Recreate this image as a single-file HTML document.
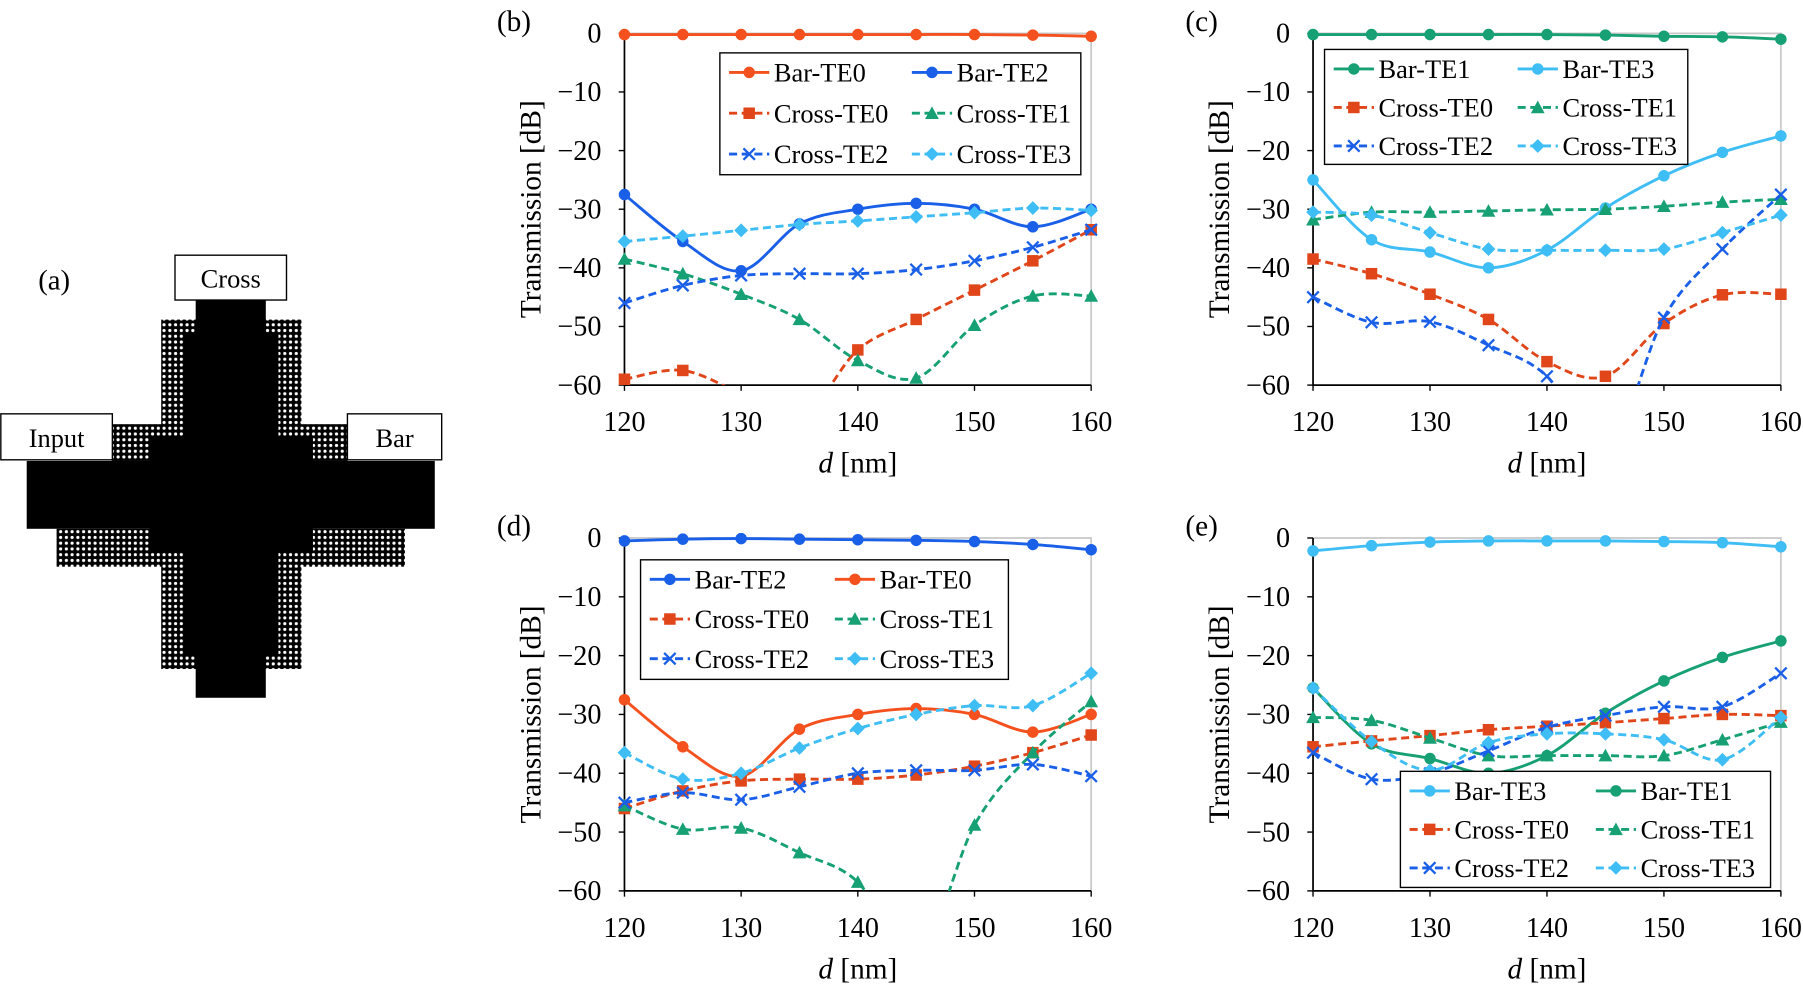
<!DOCTYPE html>
<html><head><meta charset="utf-8"><style>
html,body{margin:0;padding:0;background:#fff;}
svg{display:block;}
text{font-family:"Liberation Serif",serif;}
</style></head><body>
<svg id="s" width="1803" height="984" viewBox="0 0 1568 856" xmlns="http://www.w3.org/2000/svg">
<defs>
<pattern id="dots" width="5" height="5" patternUnits="userSpaceOnUse">
<rect width="5" height="5" fill="#000"/><circle cx="2.5" cy="2.5" r="1.4" fill="#fff"/>
</pattern>
</defs>
<g id="a">
<text x="33" y="252" font-size="25">(a)</text>
<rect x="140" y="278" width="122" height="304" fill="url(#dots)"/>
<rect x="97" y="369" width="205" height="32" fill="url(#dots)"/>
<rect x="49" y="460" width="303" height="33" fill="url(#dots)"/>
<rect x="160" y="290" width="82" height="280" fill="#000"/>
<rect x="130" y="380" width="142" height="100" fill="#000"/>
<rect x="170" y="261" width="61" height="346" fill="#000"/>
<rect x="23" y="401" width="355" height="59" fill="#000"/>
<rect x="152" y="222" width="97" height="39" fill="#fff" stroke="#000" stroke-width="1.2"/>
<text x="200.5" y="250" font-size="23" text-anchor="middle">Cross</text>
<rect x="0.5" y="360" width="97" height="40" fill="#fff" stroke="#000" stroke-width="1.2"/>
<text x="49" y="389" font-size="23" text-anchor="middle">Input</text>
<rect x="302" y="360" width="82" height="40" fill="#fff" stroke="#000" stroke-width="1.2"/>
<text x="343" y="389" font-size="23" text-anchor="middle">Bar</text>
</g>
</svg>
<script>
const S=document.getElementById('s');const NS='http://www.w3.org/2000/svg';
function el(t,a,p){const e=document.createElementNS(NS,t);for(const k in a)e.setAttribute(k,a[k]);(p||S).appendChild(e);return e;}
const C={or:'#f4511e',or2:'#e0461a',bl:'#1a5fe8',gr:'#17a073',lb:'#3fbdf5'};
function marker(g,m,x,y,c){
 if(m=='o')el('circle',{cx:x,cy:y,r:5,fill:c},g);
 else if(m=='s')el('rect',{x:x-5,y:y-5,width:10,height:10,fill:c},g);
 else if(m=='t')el('polygon',{points:`${x},${y-6} ${x+6},${y+5} ${x-6},${y+5}`,fill:c},g);
 else if(m=='d')el('polygon',{points:`${x},${y-6} ${x+6},${y} ${x},${y+6} ${x-6},${y}`,fill:c},g);
 else if(m=='x'){el('path',{d:`M${x-5} ${y-5}L${x+5} ${y+5}M${x+5} ${y-5}L${x-5} ${y+5}`,stroke:c,'stroke-width':2},g);}
}
function smooth(p){let d=`M${p[0][0]} ${p[0][1]}`;for(let i=0;i<p.length-1;i++){const p0=p[i-1]||p[i],p1=p[i],p2=p[i+1],p3=p[i+2]||p2;
 const c1=[p1[0]+(p2[0]-p0[0])/6,p1[1]+(p2[1]-p0[1])/6],c2=[p2[0]-(p3[0]-p1[0])/6,p2[1]-(p3[1]-p1[1])/6];
 d+=`C${c1[0]} ${c1[1]} ${c2[0]} ${c2[1]} ${p2[0]} ${p2[1]}`;}return d;}
let cid=0;
function panel(o){
 const {x0,x1,y0,y1,lab,series,leg}=o;
 const X=v=>x0+(v-120)/40*(x1-x0),Y=v=>y0+(-v)/60*(y1-y0);
 el('path',{d:`M${x0} ${y0}H${x1}V${y1}`,stroke:'#c8c8c8','stroke-width':1.5,fill:'none'});
 el('path',{d:`M${x0} ${y0}V${y1}H${x1}`,stroke:'#000','stroke-width':1.5,fill:'none'});
 for(let v=0;v>=-60;v-=10){const y=Y(v);el('line',{x1:x0-5,x2:x0,y1:y,y2:y,stroke:'#000','stroke-width':1.2});
  el('text',{x:x0-20,y:y+8,'font-size':24.5,'text-anchor':'end'}).textContent=(v<0?'\u2212':'')+Math.abs(v);}
 for(let v=120;v<=160;v+=10){const x=X(v);el('line',{x1:x,x2:x,y1:y1,y2:y1+5,stroke:'#000','stroke-width':1.2});
  el('text',{x:x,y:y1+40,'font-size':24.5,'text-anchor':'middle'}).textContent=v;}
 const t=el('text',{x:(x0+x1)/2,y:y1+76,'font-size':25.5,'text-anchor':'middle'});
 const ti=el('tspan',{'font-style':'italic'},t);ti.textContent='d';const t2=el('tspan',{},t);t2.textContent=' [nm]';
 const yc=(y0+y1)/2;el('text',{x:0,y:0,'font-size':25.5,'text-anchor':'middle',transform:`translate(${x0-73},${yc}) rotate(-90)`}).textContent='Transmission [dB]';
 el('text',{x:x0-111,y:y0-2,'font-size':25.5}).textContent=lab;
 const id='c'+(cid++);const cp=el('clipPath',{id:id});el('rect',{x:x0-8,y:y0-8,width:x1-x0+16,height:y1-y0+8},cp);
 const g=el('g',{'clip-path':`url(#${id})`});
 series.forEach(s=>{const pts=s.v.map((v,i)=>[X(120+5*i),Y(v)]);
  el('path',{d:smooth(pts),stroke:s.c,'stroke-width':2.5,fill:'none','stroke-dasharray':s.dash?'7 4':'none'},g);
  pts.forEach(p=>{if(p[1]<=y1+1)marker(g,s.m,p[0],p[1],s.c);});});
 const L=leg;el('rect',{x:L.x,y:L.y,width:L.w,height:L.h,fill:'#fff',stroke:'#000','stroke-width':1.2});
 L.items.forEach((it,i)=>{const col=i%2,row=Math.floor(i/2);const lx=L.x+8+col*L.cw,ly=L.y+17+row*L.rh;
  el('line',{x1:lx,x2:lx+35,y1:ly,y2:ly,stroke:it.c,'stroke-width':2.5,'stroke-dasharray':it.dash?'7 4':'none'});
  marker(S,it.m,lx+17.5,ly,it.c);
  el('text',{x:lx+39,y:ly+8,'font-size':23}).textContent=it.n;});
}
const s=(n,c,m,dash,v)=>({n,c,m,dash,v});
const b=[s('Bar-TE0',C.or,'o',0,[-0.2,-0.2,-0.2,-0.2,-0.2,-0.2,-0.2,-0.3,-0.5]),
 s('Bar-TE2',C.bl,'o',0,[-27.5,-35.5,-40.5,-32.5,-30,-29,-30,-33,-30]),
 s('Cross-TE0',C.or2,'s',1,[-59,-57.5,-61.5,-66,-54,-48.8,-43.8,-38.8,-33.5]),
 s('Cross-TE1',C.gr,'t',1,[-38.5,-41,-44.5,-48.8,-55.8,-58.8,-49.8,-44.8,-44.8]),
 s('Cross-TE2',C.bl,'x',1,[-46,-43,-41.3,-41,-41,-40.3,-38.8,-36.5,-33.5]),
 s('Cross-TE3',C.lb,'d',1,[-35.5,-34.6,-33.6,-32.6,-32,-31.3,-30.6,-29.8,-30.2])];
panel({x0:543,x1:949,y0:29,y1:335,lab:'(b)',series:b,leg:{x:626,y:46,w:314,h:106,cw:159,rh:35.5,items:b}});
const c=[s('Bar-TE1',C.gr,'o',0,[-0.2,-0.2,-0.2,-0.2,-0.2,-0.3,-0.5,-0.6,-1]),
 s('Bar-TE3',C.lb,'o',0,[-25,-35.2,-37.3,-40,-37,-29.8,-24.3,-20.3,-17.5]),
 s('Cross-TE0',C.or2,'s',1,[-38.5,-41,-44.5,-48.8,-56,-58.5,-49.5,-44.6,-44.5]),
 s('Cross-TE1',C.gr,'t',1,[-31.8,-30.5,-30.5,-30.3,-30.1,-30,-29.5,-28.8,-28.3]),
 s('Cross-TE2',C.bl,'x',1,[-45,-49.3,-49.2,-53.2,-58.5,-72,-48.5,-36.8,-27.5]),
 s('Cross-TE3',C.lb,'d',1,[-30.5,-31,-34,-36.8,-37,-37,-36.8,-34,-31])];
panel({x0:1142,x1:1549,y0:29,y1:335,lab:'(c)',series:c,leg:{x:1152,y:43,w:316,h:100,cw:160,rh:33.5,items:c}});
const d=[s('Bar-TE2',C.bl,'o',0,[-0.5,-0.2,-0.1,-0.2,-0.3,-0.4,-0.6,-1.1,-2]),
 s('Bar-TE0',C.or,'o',0,[-27.5,-35.5,-40.5,-32.5,-30,-29,-30,-33,-30]),
 s('Cross-TE0',C.or2,'s',1,[-46,-43,-41.3,-41,-41,-40.3,-38.8,-36.5,-33.5]),
 s('Cross-TE1',C.gr,'t',1,[-45.5,-49.5,-49.3,-53.5,-58.5,-72,-48.8,-36.5,-27.8]),
 s('Cross-TE2',C.bl,'x',1,[-45,-43.3,-44.5,-42.3,-40,-39.5,-39.5,-38.5,-40.5]),
 s('Cross-TE3',C.lb,'d',1,[-36.5,-41,-40,-35.7,-32.4,-30,-28.5,-28.5,-23])];
panel({x0:543,x1:949,y0:468,y1:775,lab:'(d)',series:d,leg:{x:557,y:487,w:320,h:104,cw:161,rh:34.5,items:d}});
const e=[s('Bar-TE3',C.lb,'o',0,[-2.2,-1.3,-0.7,-0.5,-0.5,-0.5,-0.6,-0.8,-1.5]),
 s('Bar-TE1',C.gr,'o',0,[-25.5,-35,-37.5,-40,-37,-29.8,-24.3,-20.3,-17.5]),
 s('Cross-TE0',C.or2,'s',1,[-35.5,-34.5,-33.6,-32.6,-32,-31.4,-30.7,-30,-30.2]),
 s('Cross-TE1',C.gr,'t',1,[-30.5,-31,-34,-37,-37,-37,-37,-34.3,-31.3]),
 s('Cross-TE2',C.bl,'x',1,[-36.5,-41,-40,-36.2,-32.2,-30.2,-28.7,-28.7,-23]),
 s('Cross-TE3',C.lb,'d',1,[-25.5,-34.6,-39.5,-34.8,-33.3,-33.3,-34.3,-37.7,-30.5])];
panel({x0:1142,x1:1549,y0:468,y1:775,lab:'(e)',series:e,leg:{x:1218,y:671,w:322,h:101,cw:162,rh:33.5,items:e}});
</script>
</body></html>
